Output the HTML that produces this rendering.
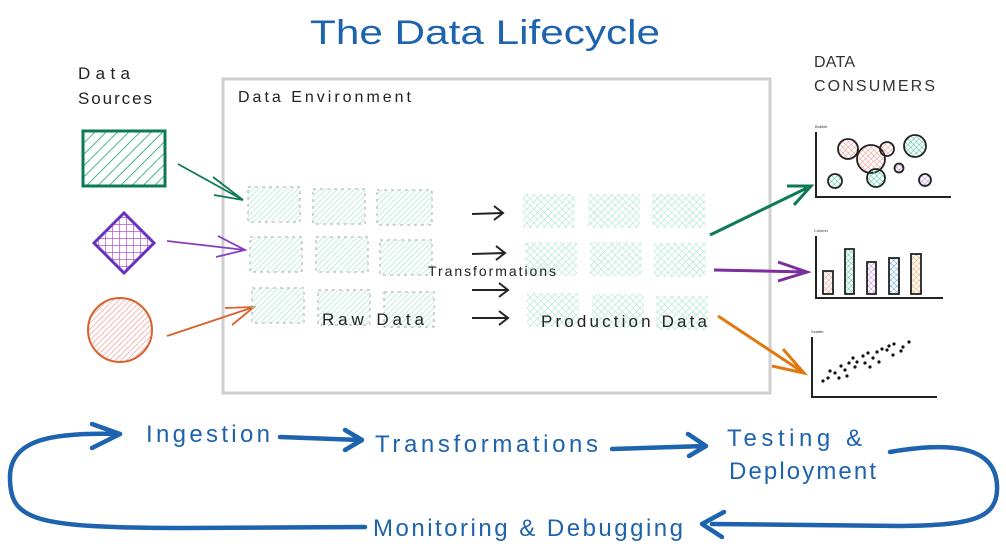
<!DOCTYPE html>
<html><head><meta charset="utf-8"><style>
html,body{margin:0;padding:0;background:#fff;}
svg{display:block;}
text{font-family:"Liberation Sans",sans-serif;}
</style></head><body>
<svg width="1006" height="555" viewBox="0 0 1006 555" xmlns="http://www.w3.org/2000/svg">
<defs>
<pattern id="hg" width="8" height="8" patternUnits="userSpaceOnUse" patternTransform="rotate(45)"><line x1="0" y1="0" x2="0" y2="8" stroke="#1aa37a" stroke-width="1.6"/></pattern>
<pattern id="hl" width="4" height="4" patternUnits="userSpaceOnUse" patternTransform="rotate(45)"><line x1="0" y1="0" x2="0" y2="4" stroke="#a8e6d2" stroke-width="1.4"/></pattern>
<pattern id="xl" width="5" height="5" patternUnits="userSpaceOnUse" patternTransform="rotate(45)"><path d="M0 0V5M0 0H5" stroke="#9fe3cc" stroke-width="1.1"/></pattern>
<pattern id="hp" width="7" height="7" patternUnits="userSpaceOnUse"><path d="M0 0V7M0 0H7" stroke="#b052d6" stroke-width="1.4"/></pattern>
<pattern id="ho" width="4" height="4" patternUnits="userSpaceOnUse" patternTransform="rotate(45)"><line x1="0" y1="0" x2="0" y2="4" stroke="#f08a8a" stroke-width="1.2"/></pattern>
<pattern id="xr" width="4" height="4" patternUnits="userSpaceOnUse" patternTransform="rotate(45)"><path d="M0 0V4M0 0H4" stroke="#ef8f86" stroke-width="1"/></pattern>
<pattern id="xg" width="4" height="4" patternUnits="userSpaceOnUse" patternTransform="rotate(45)"><path d="M0 0V4M0 0H4" stroke="#3cc49a" stroke-width="1"/></pattern>
<pattern id="xp" width="4" height="4" patternUnits="userSpaceOnUse" patternTransform="rotate(45)"><path d="M0 0V4M0 0H4" stroke="#c17be0" stroke-width="1"/></pattern>
<pattern id="xb" width="4" height="4" patternUnits="userSpaceOnUse" patternTransform="rotate(45)"><path d="M0 0V4M0 0H4" stroke="#5aa0e6" stroke-width="1"/></pattern>
<pattern id="xo" width="4" height="4" patternUnits="userSpaceOnUse" patternTransform="rotate(45)"><path d="M0 0V4M0 0H4" stroke="#f4a04a" stroke-width="1"/></pattern>
</defs>

<text x="310" y="44" font-size="34" fill="#1e63ad" textLength="350" lengthAdjust="spacingAndGlyphs">The Data Lifecycle</text>

<text x="78" y="79" font-size="17" fill="#222" textLength="52">Data</text>
<text x="78" y="104" font-size="17" fill="#222" textLength="74">Sources</text>

<rect x="223" y="79" width="547" height="314" fill="none" stroke="#cfcfcf" stroke-width="3"/>
<text x="238" y="102" font-size="16" fill="#222" textLength="173">Data Environment</text>

<rect x="83" y="131" width="82" height="55" fill="url(#hg)" stroke="#0c7a53" stroke-width="3"/>
<path d="M124 213 L154 243 L124 273 L94 243 Z" fill="url(#hp)" stroke="#6a32c0" stroke-width="3"/>
<circle cx="120" cy="330" r="32" fill="url(#ho)" stroke="#d9622b" stroke-width="2"/>

<g fill="none" stroke-width="1.8">
<path d="M178 164 L243 200 M213 177 L243 200 L214 195" stroke="#0c7a53"/>
<path d="M167 241 L245 250 M218 236 L245 250 L216 257" stroke="#8a3cc0"/>
<path d="M167 336 L254 307 M225 308 L254 307 L232 325" stroke="#d9622b"/>
</g>

<g fill="url(#hl)" stroke="#aaa" stroke-width="1" stroke-dasharray="3,4">
<rect x="248" y="187" width="52" height="35"/><rect x="313" y="189" width="52" height="35"/><rect x="377" y="190" width="55" height="35"/>
<rect x="250" y="237" width="52" height="35"/><rect x="316" y="237" width="52" height="35"/><rect x="380" y="240" width="52" height="35"/>
<rect x="252" y="288" width="52" height="35"/><rect x="318" y="290" width="52" height="35"/><rect x="384" y="292" width="50" height="35"/>
</g>
<g fill="url(#xl)">
<rect x="523" y="194" width="52" height="34"/><rect x="588" y="194" width="52" height="34"/><rect x="652" y="194" width="53" height="34"/>
<rect x="525" y="242" width="52" height="34"/><rect x="590" y="242" width="52" height="34"/><rect x="654" y="243" width="52" height="34"/>
<rect x="527" y="293" width="52" height="34"/><rect x="592" y="294" width="52" height="34"/><rect x="656" y="296" width="52" height="34"/>
</g>
<g fill="none" stroke="#222" stroke-width="2">
<path d="M472 214 L503 213 M494 206 L503 213 L494 220"/>
<path d="M472 254 L505 253 M496 246 L505 253 L496 260"/>
<path d="M472 290 L508 290 M499 283 L508 290 L499 297"/>
<path d="M472 318 L508 318 M499 311 L508 318 L499 325"/>
</g>
<text x="428" y="276" font-size="14" fill="#222" textLength="128">Transformations</text>
<text x="322" y="325" font-size="17" fill="#222" textLength="102">Raw Data</text>
<text x="541" y="327" font-size="17" fill="#222" textLength="166">Production Data</text>

<g fill="none" stroke-width="3">
<path d="M710 235 L811 186 M787 186 L811 186 L794 205" stroke="#0c7a53"/>
<path d="M714 270 L807 272 M778 262 L807 272 L778 281" stroke="#7b2e9c"/>
<path d="M718 316 L804 373 M783 349 L804 373 L772 366" stroke="#e07a10"/>
</g>

<text x="814" y="67" font-size="16" fill="#333" textLength="41">DATA</text>
<text x="814" y="91" font-size="16" fill="#333" textLength="121">CONSUMERS</text>

<text x="815" y="128" font-size="4" fill="#333">Bubble</text>
<path d="M816 132 L816 197 L951 197" fill="none" stroke="#222" stroke-width="2"/>
<g stroke="#222" stroke-width="1.8">
<circle cx="848" cy="149" r="10" fill="url(#xr)"/>
<circle cx="871" cy="159" r="14" fill="url(#xr)"/>
<circle cx="887" cy="149" r="7" fill="url(#xr)"/>
<circle cx="915" cy="146" r="11" fill="url(#xg)"/>
<circle cx="899" cy="168" r="4.5" fill="url(#xp)"/>
<circle cx="835" cy="181" r="7" fill="url(#xg)"/>
<circle cx="876" cy="178" r="9" fill="url(#xg)"/>
<circle cx="925" cy="180" r="6" fill="url(#xp)"/>
</g>

<text x="814" y="232" font-size="4" fill="#333">Column</text>
<path d="M816 236 L816 298 L943 298" fill="none" stroke="#222" stroke-width="2"/>
<g stroke="#222" stroke-width="1.8">
<rect x="823" y="271" width="10" height="23" fill="url(#xr)"/>
<rect x="845" y="249" width="9" height="45" fill="url(#xg)"/>
<rect x="867" y="262" width="9" height="32" fill="url(#xp)"/>
<rect x="889" y="258" width="10" height="36" fill="url(#xb)"/>
<rect x="911" y="254" width="10" height="40" fill="url(#xo)"/>
</g>

<text x="811" y="333" font-size="4" fill="#333">Scatter</text>
<path d="M812 337 L812 397 L937 397" fill="none" stroke="#222" stroke-width="2"/>
<g fill="#111">
<circle cx="823" cy="381" r="1.6"/><circle cx="828" cy="378" r="1.6"/><circle cx="830" cy="371" r="1.6"/><circle cx="835" cy="373" r="1.6"/>
<circle cx="839" cy="378" r="1.6"/><circle cx="841" cy="366" r="1.6"/><circle cx="845" cy="370" r="1.6"/><circle cx="847" cy="376" r="1.6"/>
<circle cx="849" cy="363" r="1.6"/><circle cx="853" cy="358" r="1.6"/><circle cx="855" cy="367" r="1.6"/><circle cx="857" cy="362" r="1.6"/>
<circle cx="863" cy="356" r="1.6"/><circle cx="865" cy="363" r="1.6"/><circle cx="868" cy="353" r="1.6"/><circle cx="870" cy="367" r="1.6"/>
<circle cx="873" cy="358" r="1.6"/><circle cx="877" cy="352" r="1.6"/><circle cx="879" cy="362" r="1.6"/><circle cx="882" cy="349" r="1.6"/>
<circle cx="887" cy="350" r="1.6"/><circle cx="889" cy="346" r="1.6"/><circle cx="894" cy="344" r="1.6"/><circle cx="901" cy="351" r="1.6"/>
<circle cx="903" cy="347" r="1.6"/><circle cx="909" cy="342" r="1.6"/><circle cx="893" cy="355" r="1.6"/>
</g>

<g fill="none" stroke="#1e63ad" stroke-width="4.5" stroke-linecap="round" stroke-linejoin="round">
<path d="M120 434 C50 432 12 440 10 475 C9 520 30 528 185 528 L365 527"/>
<path d="M92 424 L120 434 L92 448"/>
<path d="M280 437 L360 440 M345 430 L362 440 L345 450"/>
<path d="M612 449 L705 446 M688 434 L706 446 L689 456"/>
<path d="M890 452 C960 440 995 450 997 485 C999 520 970 525 900 526 L712 524"/>
<path d="M724 512 L702 524 L722 537"/>
</g>
<g font-size="24" fill="#1e63ad">
<text x="146" y="442" textLength="124">Ingestion</text>
<text x="375" y="452" textLength="223">Transformations</text>
<text x="727" y="446" textLength="135">Testing &amp;</text>
<text x="729" y="479" textLength="147">Deployment</text>
<text x="373" y="536" textLength="310">Monitoring &amp; Debugging</text>
</g>
</svg>
</body></html>
